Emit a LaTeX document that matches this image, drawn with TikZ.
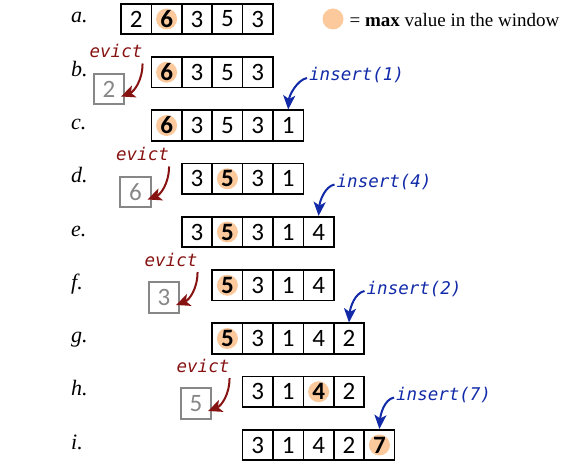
\documentclass[tikz,border=0pt]{standalone}
\usepackage{fontspec}
\newfontfamily\digfont{Carlito}
\newfontfamily\codefont{DejaVu Sans Mono}
\newfontfamily\serfont{Liberation Serif}
\usetikzlibrary{arrows.meta,calc}
\definecolor{peach}{RGB}{251,201,156}
\definecolor{evred}{RGB}{135,18,18}
\definecolor{insblue}{RGB}{18,42,168}
\definecolor{evgray}{RGB}{135,135,135}
\tikzset{
  cellbox/.style={draw=black,line width=1.7pt,minimum width=30.4pt,minimum height=30.4pt,inner sep=0pt,font=\digfont\fontsize{25}{25}\selectfont},
  maxcell/.style={cellbox,font=\digfont\bfseries\fontsize{25}{25}\selectfont},
  maxdot/.style={circle,fill=peach,minimum size=21pt,inner sep=0pt},
  oldbox/.style={draw=evgray,line width=1.7pt,minimum size=30.4pt,inner sep=0pt,text=evgray,font=\digfont\fontsize{25}{25}\selectfont},
  evlabel/.style={anchor=base,text=evred,inner sep=0pt,font=\codefont\itshape\fontsize{17.5}{17.5}\selectfont},
  inslabel/.style={anchor=base west,text=insblue,inner sep=0pt,font=\codefont\itshape\fontsize{17.5}{17.5}\selectfont},
  rowlabel/.style={anchor=base west,inner sep=0pt,font=\serfont\itshape\fontsize{22}{22}\selectfont},
  evarrow/.style={draw=evred,line width=2pt,-{Stealth[length=14pt,width=12.5pt,inset=3.5pt]}},
  insarrow/.style={draw=insblue,line width=2pt,-{Stealth[length=14pt,width=12pt,inset=3.5pt]}},
}
\newcommand\cellrow[5]{%
  \foreach \v [count=\i] in {#5} {%
    \ifnum\i=#4\relax
      \node[maxdot] (#1dot) at ({#2+(\i-1)*30.4},#3) {};
      \node[maxcell] (#1\i) at ({#2+(\i-1)*30.4},#3) {\v};
    \else
      \node[cellbox] (#1\i) at ({#2+(\i-1)*30.4},#3) {\v};
    \fi
  }}
\newcommand\evictpart[4]{% #1 name, #2 x, #3 y, #4 digit
  \node[oldbox] (old#1) at (#2,#3) {#4};
  \node[evlabel] (evl#1) at ($(old#1.center)+(7,-31.5)$) {evict};
  \draw[evarrow] ($(evl#1.base east)+(0,6)$) .. controls ($(evl#1.base east)+(0,23)$) and ($(old#1.east)+(9,2.5)$) .. ($(old#1.east)+(-4,7.5)$);
}
\newcommand\insertpart[4]{% #1 name, #2 x, #3 y, #4 text, target cell
  \node[inslabel] (ins#1) at (#2,#3) {#4};
  \draw[insarrow] ($(ins#1.base west)+(-2,-3)$) .. controls ($(ins#1.base west)+(-12,-1)$) and ($(#15.north)+(1,-14)$) .. (#15.north);
}
\begin{document}
\begin{tikzpicture}[x=1pt,y=-1pt]
\useasboundingbox (0,0) rectangle (575,465);
% legend
\node[maxdot] (legdot) at (333,19) {};
\node[anchor=base west,inner sep=0pt,font=\serfont\fontsize{19}{19}\selectfont] (legtext) at (349.5,26.5) {= \textbf{max} value in the window};
% row labels
\node[rowlabel] (la) at (71,23) {a.};
\node[rowlabel] (lb) at (71,76.25) {b.};
\node[rowlabel] (lc) at (71,129.5) {c.};
\node[rowlabel] (ld) at (71,182.75) {d.};
\node[rowlabel] (le) at (71,236) {e.};
\node[rowlabel] (lf) at (71,289.25) {f.};
\node[rowlabel] (lg) at (71,342.5) {g.};
\node[rowlabel] (lh) at (71,395.75) {h.};
\node[rowlabel] (li) at (71,449) {i.};
% rows
\cellrow{a}{136.2}{19}{2}{2,6,3,5,3}
\cellrow{b}{166.6}{72.25}{1}{6,3,5,3}
\cellrow{c}{166.6}{125.5}{1}{6,3,5,3,1}
\cellrow{d}{197}{178.75}{2}{3,5,3,1}
\cellrow{e}{197}{232}{2}{3,5,3,1,4}
\cellrow{f}{227.4}{285.25}{1}{5,3,1,4}
\cellrow{g}{227.4}{338.5}{1}{5,3,1,4,2}
\cellrow{h}{257.8}{391.75}{3}{3,1,4,2}
\cellrow{i}{257.8}{445}{5}{3,1,4,2,7}
% evictions
\evictpart{b}{109}{89}{2}
\evictpart{d}{135.5}{192}{6}
\evictpart{f}{164}{297.5}{3}
\evictpart{h}{196}{403.5}{5}
% insertions
\insertpart{c}{309}{81}{insert(1)}
\insertpart{e}{336.5}{187.5}{insert(4)}
\insertpart{g}{366.5}{294}{insert(2)}
\insertpart{i}{396}{400.5}{insert(7)}
\end{tikzpicture}
\end{document}
